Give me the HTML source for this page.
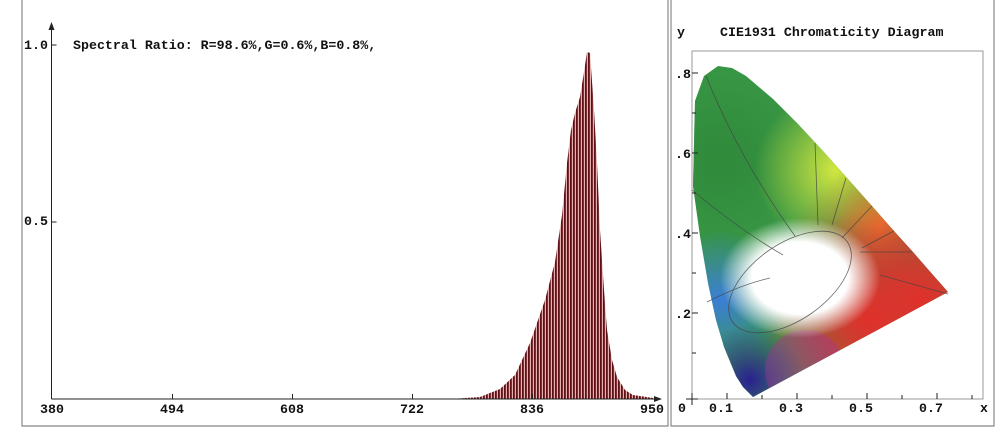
<!DOCTYPE html>
<html><head><meta charset="utf-8"><style>
body{margin:0;background:#fff;width:1000px;height:433px;overflow:hidden}
text{font-family:"Liberation Mono",monospace;font-weight:bold;font-size:13.3px;fill:#111}
</style></head><body>
<svg width="1000" height="433" viewBox="0 0 1000 433" xmlns="http://www.w3.org/2000/svg">
<defs>
<pattern id="st" width="3" height="10" patternUnits="userSpaceOnUse">
<rect width="3" height="10" fill="#e6b0b0"/><rect width="1.8" height="10" fill="#5e1016"/>
</pattern>
<clipPath id="hs"><path d="M753,397 L743,387 L736,376 L724,347 L716,320 L708,283 L700,236 L693,186 L695,101 L704,76 L718,66 L732,68 L746,76 L773,99 L798,124 L823,151 L848,179 L872,206 L894,231 L913,252 L926,267 L948,292 Z"/></clipPath>
<radialGradient id="gG" cx="0.5" cy="0.5" r="0.5"><stop offset="0" stop-color="#2f8a3a"/><stop offset="1" stop-color="#2f8a3a" stop-opacity="0"/></radialGradient>
<radialGradient id="gY" cx="0.5" cy="0.5" r="0.5"><stop offset="0" stop-color="#d0e640"/><stop offset="1" stop-color="#d0e640" stop-opacity="0"/></radialGradient>
<radialGradient id="gR" cx="0.5" cy="0.5" r="0.5"><stop offset="0" stop-color="#e0302c"/><stop offset="1" stop-color="#e0302c" stop-opacity="0"/></radialGradient>
<radialGradient id="gB" cx="0.5" cy="0.5" r="0.5"><stop offset="0" stop-color="#3a7ed8"/><stop offset="1" stop-color="#3a7ed8" stop-opacity="0"/></radialGradient>
<radialGradient id="gV" cx="0.5" cy="0.5" r="0.5"><stop offset="0" stop-color="#2a2090"/><stop offset="1" stop-color="#2a2090" stop-opacity="0"/></radialGradient>
<radialGradient id="gO" cx="0.5" cy="0.5" r="0.5"><stop offset="0" stop-color="#f0a030"/><stop offset="1" stop-color="#f0a030" stop-opacity="0"/></radialGradient>
<radialGradient id="gW" cx="0.5" cy="0.5" r="0.5"><stop offset="0" stop-color="#fff"/><stop offset="0.6" stop-color="#fff"/><stop offset="1" stop-color="#fff" stop-opacity="0"/></radialGradient>
</defs>
<g stroke="#888" stroke-width="1.2" fill="none">
<path d="M22,0 V426 H668 V0"/>
<path d="M671,0 V426 H994 V0"/>
</g>
<text x="24" y="49">1.0</text>
<text x="24" y="225">0.5</text>
<text x="73" y="49">Spectral Ratio:  R=98.6%,G=0.6%,B=0.8%,</text>
<path d="M451,399 L480,397 L500,389 L515,375 L530,343 L545,300 L555,262 L562,215 L567,163 L571,130 L575,113 L580,97 L584,72 L587,52 L590,53 L594,110 L597,163 L600,230 L604,290 L607,330 L612,360 L617,377 L625,390 L633,395 L653,398 L653,399 Z" fill="url(#st)"/>
<g stroke="#222" stroke-width="1" fill="none">
<path d="M51.5,399 V28"/><path d="M51.5,399 H656"/>
<path d="M172.5,399 v-5 M292.5,399 v-5 M412.5,399 v-5 M532.5,399 v-5"/>
<path d="M51.5,45 h5 M51.5,222 h5"/>
</g>
<path d="M51.5,22 l-3,8 h6 z" fill="#222"/>
<path d="M662,399 l-8,-3 v6 z" fill="#222"/>
<text x="40" y="413">380</text><text x="160" y="413">494</text><text x="280" y="413">608</text>
<text x="400" y="413">722</text><text x="520" y="413">836</text><text x="640" y="413">950</text>
<text x="677" y="36">y</text>
<text x="720" y="36">CIE1931 Chromaticity Diagram</text>
<rect x="692" y="51" width="291" height="348" fill="none" stroke="#999"/>
<g clip-path="url(#hs)">
<rect x="680" y="50" width="300" height="360" fill="#3a9a48"/>
<circle cx="720" cy="160" r="120" fill="url(#gG)"/>
<circle cx="835" cy="170" r="80" fill="url(#gY)"/>
<circle cx="880" cy="225" r="45" fill="url(#gO)"/>
<circle cx="920" cy="300" r="150" fill="url(#gR)"/>
<circle cx="870" cy="320" r="110" fill="url(#gR)"/>
<circle cx="720" cy="300" r="70" fill="url(#gB)"/>
<circle cx="750" cy="380" r="55" fill="url(#gV)"/>
<circle cx="805" cy="370" r="40" fill="#b0309a" opacity="0.4"/>
<ellipse cx="800" cy="278" rx="80" ry="60" fill="url(#gW)"/>
</g>
<g stroke="#444" stroke-width="0.8" fill="none" opacity="0.8">
<ellipse cx="790" cy="282" rx="70" ry="38" transform="rotate(-35 790 282)"/>
<path d="M706,76 Q740,160 795,236 M692,190 Q740,230 783,255 M707,302 Q740,285 770,278 M815,143 L818,225 M846,178 L832,225 M872,206 L842,238 M894,231 L862,248 M912,252 L860,252 M948,294 L880,275"/>
</g>
<g stroke="#222" stroke-width="1" fill="none">
<path d="M692,73 h6 M692,113 h4 M692,153 h6 M692,193 h4 M692,233 h6 M692,273 h4 M692,313 h6 M692,353 h4"/>
<path d="M727,399 v-6 M762,399 v-4 M797,399 v-6 M832,399 v-4 M867,399 v-6 M902,399 v-4 M937,399 v-6 M972,399 v-4"/>
<path d="M686,399 h12 M692,393 v12"/>
</g>
<text x="675" y="78">.8</text><text x="675" y="158">.6</text><text x="675" y="238">.4</text><text x="675" y="318">.2</text>
<text x="678" y="412">0</text>
<text x="709" y="412">0.1</text><text x="779" y="412">0.3</text><text x="849" y="412">0.5</text><text x="919" y="412">0.7</text>
<text x="980" y="412">x</text>
</svg>
</body></html>
